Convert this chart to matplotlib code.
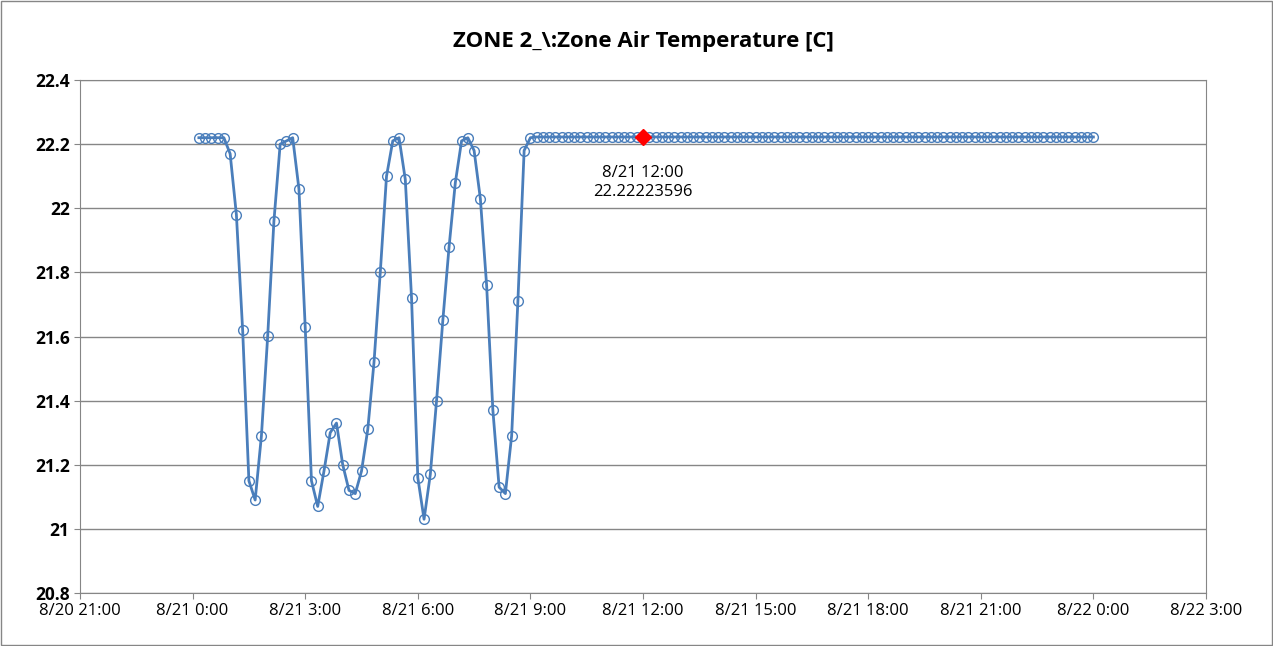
import numpy as np
import pandas as pd
import matplotlib
matplotlib.use("Agg")
import matplotlib.pyplot as plt
import matplotlib.dates as mdates

# 10-minute readings from 8/21 0:10 to 9:00, then flat at setpoint until 8/22 0:00
early_temps = [22.22, 22.22, 22.22, 22.22, 22.22,
               22.17, 21.98, 21.62, 21.15, 21.09, 21.29, 21.60, 21.96, 22.20, 22.21,
               22.22, 22.06, 21.63, 21.15, 21.07, 21.18, 21.30, 21.33, 21.20, 21.12,
               21.11, 21.18, 21.31, 21.52, 21.80, 22.10, 22.21, 22.22, 22.09, 21.72,
               21.16, 21.03, 21.17, 21.40, 21.65, 21.88, 22.08, 22.21, 22.22, 22.18,
               22.03, 21.76, 21.37, 21.13, 21.11, 21.29, 21.71, 22.18, 22.22]
setpoint = 22.22223596
times = pd.date_range("2023-08-21 00:10", "2023-08-22 00:00", freq="10min")
temps = early_temps + [setpoint] * (len(times) - len(early_temps))

marked_time = pd.Timestamp("2023-08-21 12:00")
marked_value = 22.22223596

plt.rcParams["font.family"] = "Open Sans"
fig = plt.figure(figsize=(12.73, 6.46), dpi=100)
ax = fig.add_axes([80 / 1273, 53 / 646, 1126 / 1273, 513 / 646])

blue = "#4a7ebb"
ax.plot(times, temps, color=blue, lw=2, marker="o", ms=7, mfc="none", mec=blue, mew=1)
ax.plot([marked_time], [marked_value], marker="D", color="red", ms=8, zorder=5)
ax.annotate("8/21 12:00\n22.22223596", (marked_time, marked_value),
            xytext=(0, -20), textcoords="offset points", ha="center", va="top",
            fontsize=12, linespacing=1.3)

ax.set_xlim(pd.Timestamp("2023-08-20 21:00"), pd.Timestamp("2023-08-22 03:00"))
ax.set_ylim(20.8, 22.4)
ax.set_yticks(np.arange(20.8, 22.41, 0.2))
ax.set_yticklabels(["20.8", "21", "21.2", "21.4", "21.6", "21.8", "22", "22.2", "22.4"],
                   fontweight="bold", fontsize=12.5)
ax.xaxis.set_major_locator(mdates.HourLocator(byhour=range(0, 24, 3)))
ax.xaxis.set_major_formatter(mdates.DateFormatter("%-m/%-d %-H:%M"))
for lbl in ax.get_xticklabels():
    lbl.set_fontsize(12)
ax.grid(axis="y", color="#868686", lw=1)
ax.tick_params(axis="both", length=4, color="#868686")
for s in ax.spines.values():
    s.set_color("#868686")
ax.set_title("ZONE 2_\\:Zone Air Temperature [C]", fontsize=16, fontweight="bold", pad=24)

fig.patches.append(plt.Rectangle((0.001, 0.001), 0.998, 0.997, transform=fig.transFigure,
                                 fill=False, edgecolor="#868686", lw=1))
fig.savefig("out.png", dpi=100)
